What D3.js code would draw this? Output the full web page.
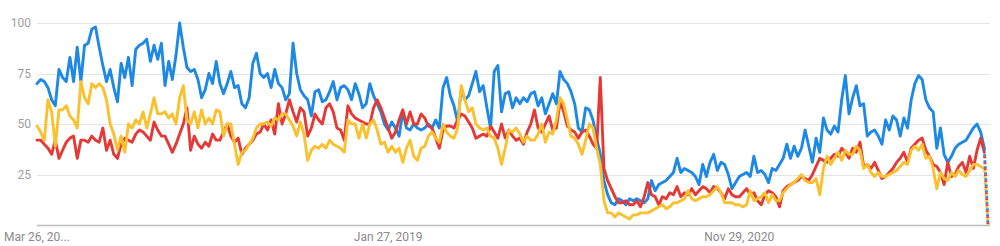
<!DOCTYPE html>
<html><head><meta charset="utf-8">
<script src="https://cdn.jsdelivr.net/npm/d3@7"></script>
<style>
html,body{margin:0;padding:0;background:#fff;}
svg{display:block;font-family:Roboto,"Noto Sans",Arial,sans-serif;}
</style></head>
<body><svg id="c" width="1000" height="246"></svg>
<script>
const yTicks = [25, 50, 75, 100];
const xTickIndex = [0, 96, 192];
const xTickLabels = ["Mar 26, 20...", "Jan 27, 2019", "Nov 29, 2020"];
const seriesNames = ["Term 1", "Term 2", "Term 3"];
const seriesColors = ["#1E88E5", "#E53935", "#FBC02D"];

const blue = [70,72,71,68,62,59,77,73,71,83,71,88,71,89,90,97,98,88,79,71,
77,68,61,80,73,83,69,87,89,90,92,81,89,82,90,69,81,72,84,100,
88,78,76,77,72,63,67,75,70,81,70,65,70,76,68,69,60,58,63,80,
85,75,73,75,68,77,70,68,62,65,90,75,67,64,62,54,66,67,61,62,
66,71,62,68,69,67,62,70,65,58,60,70,64,60,56,50,47,51,48,44,
56,48,47,50,48,47,48,50,48,52,48,68,73,64,59,51,67,62,64,70,
76,66,69,58,48,76,79,56,65,66,58,63,60,63,61,65,66,59,63,55,
60,65,60,76,72,70,66,60,48,46,58,57,52,43,35,22,15,11,10,13,
12,10,13,12,13,12,11,13,22,17,20,21,22,24,26,33,26,28,27,26,
24,20,30,24,31,35,27,31,30,25,18,21,24,25,26,24,34,26,27,25,
21,28,27,30,33,40,33,39,34,38,47,39,31,43,36,53,47,45,49,46,
62,74,55,63,69,59,60,44,46,47,44,40,52,47,54,52,44,53,48,62,
70,74,72,62,58,56,38,48,35,31,34,38,40,41,42,45,48,50,46,38,0];

const red = [42,42,40,38,35,42,33,37,41,43,44,33,42,42,41,44,42,41,48,37,
42,35,33,40,43,42,41,45,47,46,44,42,51,47,44,44,40,36,40,45,
50,58,37,44,40,38,41,39,45,42,42,46,50,44,41,43,35,38,40,42,
45,46,50,47,52,45,60,50,55,62,56,51,58,56,44,48,55,52,50,58,
60,56,48,47,42,59,55,53,52,51,50,50,58,62,58,53,48,43,46,52,
57,50,56,50,50,55,53,49,48,43,38,47,49,49,48,52,55,54,51,48,
43,44,45,44,49,46,43,50,43,47,44,42,43,40,46,50,57,48,46,50,
54,47,48,61,56,49,47,46,43,46,47,44,40,38,73,28,22,18,14,11,
11,12,10,10,12,9,14,21,15,14,10,14,13,16,15,19,14,16,15,18,
15,17,19,18,16,19,18,16,13,18,15,14,14,16,18,15,16,12,10,15,
17,16,14,9,17,19,20,21,22,24,23,22,25,29,33,32,31,33,35,34,
38,36,33,38,36,41,29,30,28,31,27,23,24,26,28,31,33,36,31,38,
40,42,43,37,34,30,29,26,20,31,24,25,29,31,26,34,28,37,43,36,0];

const yellow = [49,46,42,62,56,39,57,57,59,54,52,48,71,63,60,70,68,70,68,62,
50,45,37,44,36,50,48,52,50,56,48,55,63,55,55,56,53,55,50,63,
69,52,50,56,48,57,50,53,50,57,56,44,50,50,40,30,36,37,40,43,
48,50,50,51,49,53,52,55,55,52,49,44,51,45,32,37,39,38,40,38,
42,40,39,38,36,52,50,50,43,50,43,50,52,47,40,41,36,39,36,38,
31,38,42,34,32,38,39,44,46,43,41,50,46,44,43,48,69,62,56,58,
50,48,47,48,44,43,38,30,38,47,46,48,45,41,44,42,42,45,50,41,
46,45,52,63,60,52,44,43,40,35,42,50,48,38,30,12,6,6,4,6,
5,4,3,5,5,6,6,6,7,8,9,10,8,9,11,11,12,13,17,13,
12,13,14,14,15,17,19,16,11,11,11,10,10,9,10,17,12,13,14,16,
11,15,12,12,16,18,20,21,23,25,22,21,21,23,15,28,34,30,33,36,
32,37,35,35,39,37,28,30,26,24,26,24,24,25,26,27,29,31,30,37,
39,37,40,33,34,28,18,26,23,22,26,24,27,25,24,27,30,30,29,28,0];

const series = [blue, red, yellow];

const svg = d3.select("#c");
const x0 = 37, x1 = 988, yTop = 23, yBot = 225;
const n = blue.length;
const x = d3.scaleLinear().domain([0, n - 1]).range([x0, x1]);
const y = d3.scaleLinear().domain([0, 100]).range([yBot, yTop]);

// gridlines
svg.append("g").selectAll("line").data(yTicks).join("line")
  .attr("x1", x0).attr("x2", 990)
  .attr("y1", d => Math.round(y(d)) + 0.5).attr("y2", d => Math.round(y(d)) + 0.5)
  .attr("stroke", "#e4e4e4").attr("stroke-width", 1);
// baseline
svg.append("line").attr("x1", x0).attr("x2", 990)
  .attr("y1", Math.round(y(0)) + 0.5).attr("y2", Math.round(y(0)) + 0.5)
  .attr("stroke", "#bdbdbd").attr("stroke-width", 1.5);

// y labels
svg.append("g").selectAll("text").data(yTicks).join("text")
  .attr("x", 31).attr("y", d => y(d)).attr("dy", "0.35em")
  .attr("text-anchor", "end").attr("font-size", 12).attr("fill", "#9e9e9e")
  .text(d => d);

// x labels
svg.append("g").selectAll("text").data(xTickIndex).join("text")
  .attr("x", (d, i) => i === 0 ? 4 : x(d)).attr("y", 241)
  .attr("text-anchor", (d, i) => i === 0 ? "start" : "middle")
  .attr("font-size", 12).attr("fill", "#8a8a8a")
  .text((d, i) => xTickLabels[i]);

const line = d3.line().x((d, i) => x(i)).y(d => y(d));

series.forEach((s, k) => {
  const solid = s.slice(0, n - 1);
  svg.append("path").datum(solid)
    .attr("d", line)
    .attr("fill", "none").attr("stroke", seriesColors[k])
    .attr("stroke-width", 2.9).attr("stroke-linejoin", "round").attr("stroke-linecap", "round");
});
// partial last week (dotted)
series.forEach((s, k) => {
  const seg = [[n - 2, s[n - 2]], [n - 1, s[n - 1]]];
  svg.append("path").datum(seg)
    .attr("d", d3.line().x(d => x(d[0])).y(d => y(d[1])))
    .attr("fill", "none").attr("stroke", seriesColors[k])
    .attr("stroke-width", 2.9)
    .attr("stroke-dasharray", "2,4").attr("stroke-dashoffset", k * 2);
});
</script></body></html>
